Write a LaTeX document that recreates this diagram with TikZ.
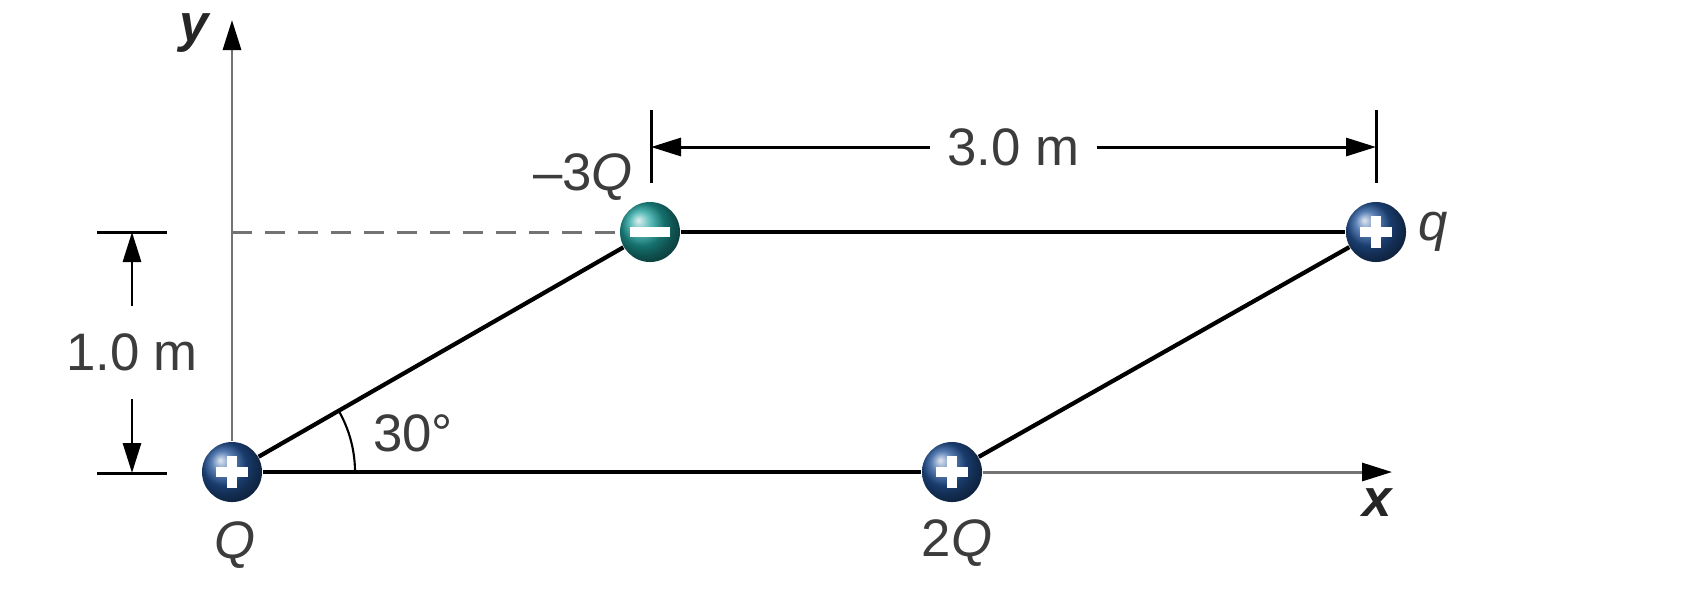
\documentclass[tikz,border=0pt]{standalone}
\usepackage{fontspec}
\setmainfont{Liberation Sans}
\usetikzlibrary{arrows.meta}
\definecolor{chargeblue}{RGB}{36,86,156}
\definecolor{chargeteal}{RGB}{30,160,156}
\definecolor{axisgray}{RGB}{115,115,115}
\definecolor{textgray}{RGB}{60,60,60}

\tikzset{
  charge/.style={circle, minimum size=0.6cm, inner sep=0pt},
  poscharge/.style={charge, ball color=chargeblue,
    path picture={\draw[white, line width=2.6pt]
      ([xshift=-0.16cm]path picture bounding box.center) -- ([xshift=0.16cm]path picture bounding box.center)
      ([yshift=-0.16cm]path picture bounding box.center) -- ([yshift=0.16cm]path picture bounding box.center);}},
  negcharge/.style={charge, ball color=chargeteal,
    path picture={\draw[white, line width=2.6pt]
      ([xshift=-0.2cm]path picture bounding box.center) -- ([xshift=0.2cm]path picture bounding box.center);}},
  lbl/.style={text=textgray, font=\fontsize{15}{18}\selectfont},
  axislbl/.style={text=black!85, font=\fontsize{15}{18}\selectfont\itshape\bfseries},
  axis/.style={axisgray, line width=0.85pt, -{Triangle[length=0.3cm,width=0.18cm,color=black]}},
  side/.style={black, line width=1.2pt},
  dimline/.style={black, line width=0.85pt, {Triangle[length=0.3cm,width=0.18cm]}-{Triangle[length=0.3cm,width=0.18cm]}},
  dimtick/.style={black, line width=0.85pt}
}

\begin{document}
\begin{tikzpicture}[x=0.01cm, y=-0.01cm]
  \useasboundingbox (0,0) rectangle (1698,611);

  % charges
  \node[poscharge] (Q) at (232,472) {};
  \node[poscharge] (twoQ) at (952,472) {};
  \node[negcharge] (mQ) at (650,232) {};
  \node[poscharge] (q) at (1376,232) {};

  \coordinate (ytip) at (232,20);
  \coordinate (xtip) at (1392,472);
  \coordinate (ydash) at (232,232);

  % axes
  \draw[axis] (Q) -- (ytip);
  \draw[axis] (twoQ) -- (xtip);
  \node[axislbl] (ylbl) at (194,33) {y};
  \node[axislbl] (xlbl) at (1377,503) {x};
  \draw[axisgray, line width=0.85pt, dash pattern=on 0.2cm off 0.13cm] (ydash) -- (mQ);

  % sides
  \draw[side] (Q) -- (twoQ);
  \draw[side] (Q) -- (mQ);
  \draw[side] (mQ) -- (q);
  \draw[side] (twoQ) -- (q);

  % angle
  \draw[black, line width=0.6pt] (355,472) arc[start angle=0, end angle=-30, radius=123];
  \node[lbl] (ang) at (413,433) {30°};

  % labels
  \node[lbl] (Qlbl) at (235,545) {\textit{Q}};
  \node[lbl] (twoQlbl) at (957,543) {2\textit{Q}};
  \node[lbl] (mQlbl) at (583,177) {–3\textit{Q}};
  \node[lbl] (qlbl) at (1433,232) {\textit{q}};

  % dimension 3.0 m
  \coordinate (ta1) at (651,110);
  \coordinate (tb1) at (651,183);
  \coordinate (ta2) at (1376,110);
  \coordinate (tb2) at (1376,183);
  \coordinate (da1) at (651,147);
  \coordinate (da2) at (1376,147);
  \draw[dimtick] (ta1) -- (tb1);
  \draw[dimtick] (ta2) -- (tb2);
  \draw[dimline] (da1) -- node[lbl, fill=white, inner xsep=5pt] (dimx) {3.0 m} (da2);

  % dimension 1.0 m
  \coordinate (la1) at (97,232);
  \coordinate (lb1) at (167,232);
  \coordinate (la2) at (97,473);
  \coordinate (lb2) at (167,473);
  \coordinate (db1) at (132,232);
  \coordinate (db2) at (132,473);
  \draw[dimtick] (la1) -- (lb1);
  \draw[dimtick] (la2) -- (lb2);
  \draw[dimline] (db1) -- node[lbl, fill=white, inner ysep=8pt] (dimy) {1.0 m} (db2);
\end{tikzpicture}
\end{document}
